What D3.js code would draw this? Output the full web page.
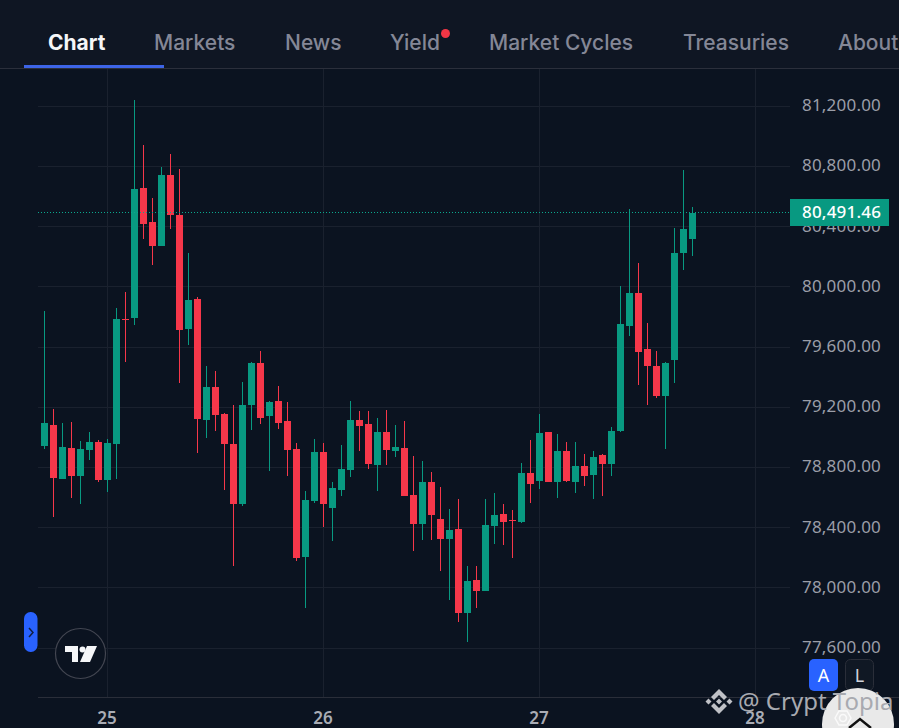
<!DOCTYPE html>
<html>
<head>
<meta charset="utf-8">
<script src="https://cdn.jsdelivr.net/npm/d3@7"></script>
<style>
html, body { margin: 0; padding: 0; background: #0b1320; overflow: hidden; }
svg { display: block; }
.tick-label { font-family: "Noto Sans", sans-serif; font-size: 17px; letter-spacing: 0.2px; fill: #9b9ea8; }
.tab { font-family: Inter, sans-serif; font-size: 21px; font-weight: 500; fill: #848796; }
</style>
</head>
<body>
<svg id="chart" width="899" height="728"></svg>
<script>
// hourly candles, first one is 24th 17:00
var opens = [78943,79082,78723,78929,78743,78916,78969,78717,78956,79787,79793,80657,80431,80271,80743,80477,79720,79919,79115,79335,
    79155,78956,78557,79215,79494,79142,79242,79109,78923,78205,78577,78903,78531,78650,78783,79115,79089,78816,79036,78909,
    78929,78617,78424,78703,78457,78325,78391,77833,78052,77979,78411,78491,78452,78438,78763,78710,79036,78703,78909,78703,
    78810,78750,78883,78823,79042,79740,79959,79587,79474,79275,79514,80225,80318];
var closes = [79095,78730,78936,78743,78923,78969,78717,78963,79786,79781,80650,80418,80271,80743,80477,79713,79913,79122,79335,79149,
    78956,78557,79215,79494,79129,79235,79095,78916,78198,78584,78903,78557,78664,78790,79115,79076,78823,79036,78916,78936,
    78610,78424,78703,78484,78325,78384,77833,78046,77979,78418,78484,78438,78446,78763,78690,79029,78703,78909,78710,78810,
    78743,78869,78823,79042,79753,79959,79567,79474,79275,79494,80225,80384,80491.46];
var highs = [79839,79188,79095,79102,78976,79036,78982,78989,79859,79966,81242,80943,80590,80796,80883,80783,80225,79932,79474,79441,
    79162,79215,79368,79501,79574,79242,79341,79235,78963,78644,78989,78963,78703,78949,79242,79175,79175,79129,79182,79082,
    79109,78876,78843,78770,78670,78524,78590,78145,78145,78590,78630,78557,78517,78830,78982,79155,79036,79022,78969,78969,
    78889,78909,78889,79069,80003,80517,80159,79760,79574,79501,80391,80777,80531];
var lows = [78923,78471,78723,78597,78557,78850,78703,78637,78723,79501,79746,80318,80145,80271,80384,79361,79614,78896,78996,79042,
    78650,78145,78544,79049,79089,78777,79056,78743,78178,77866,78564,78404,78311,78610,78737,78909,78790,78644,78816,78870,
    78610,78245,78318,78318,78112,77919,77773,77640,77866,77979,78291,78285,78198,78430,78564,78657,78703,78597,78703,78630,
    78677,78590,78610,78743,79036,79673,79348,79215,79261,78923,79361,80112,80205];

var priceTicks = [81200,80800,80400,80000,79600,79200,78800,78400,78000,77600];
var dayTicks = [25,26,27,28];
var tabNames = ["Chart","Markets","News","Yield","Market Cycles","Treasuries","About"];
var tabStarts = [48,154,285,390,489,683,838];
var lastPrice = 80491.46;

var GREEN = "#089981", RED = "#f6374a", GRID = "#1a212e";

var svg = d3.select("#chart");
var startTime = new Date(2025, 0, 24, 17);
var candleTimes = d3.range(opens.length).map(i => d3.timeHour.offset(startTime, i));

var x = d3.scaleTime()
    .domain([new Date(2025, 0, 25), new Date(2025, 0, 28)])
    .range([107.5, 755.5]);
var y = d3.scaleLinear()
    .domain([77600, 81200])
    .range([648.2, 106.2]);

var crisp = v => Math.floor(v) + 0.5;

svg.append("rect").attr("width", 899).attr("height", 728).attr("fill", "#0b1320");
svg.append("rect").attr("width", 899).attr("height", 68).attr("fill", "#0f1623");

// grid
svg.append("g").selectAll("line").data(priceTicks).join("line")
    .attr("x1", 38).attr("x2", 790)
    .attr("y1", d => crisp(y(d))).attr("y2", d => crisp(y(d)))
    .attr("stroke", GRID);
svg.append("g").selectAll("line").data(dayTicks).join("line")
    .attr("x1", d => crisp(x(new Date(2025, 0, d)))).attr("x2", d => crisp(x(new Date(2025, 0, d))))
    .attr("y1", 69).attr("y2", 697)
    .attr("stroke", GRID);

// tabs
svg.append("g").selectAll("text").data(tabNames).join("text")
    .attr("class", "tab")
    .attr("x", (d, i) => tabStarts[i])
    .attr("y", 50)
    .style("font-weight", (d, i) => i == 0 ? 700 : 500)
    .style("fill", (d, i) => i == 0 ? "#f5f6f8" : "#848796")
    .text(d => d);
svg.append("rect").attr("x", 0).attr("y", 68).attr("width", 899).attr("height", 1).attr("fill", "#2b2f3b");
svg.append("rect").attr("x", 24).attr("y", 65).attr("width", 140).attr("height", 3).attr("fill", "#3d64e6");
svg.append("circle").attr("cx", 445.5).attr("cy", 33.5).attr("r", 4.5).attr("fill", "#f23645");

// axes
var yAxis = d3.axisRight(y)
    .tickValues(priceTicks)
    .tickSize(0)
    .tickPadding(0)
    .tickFormat(d3.format(",.2f"));
var yG = svg.append("g").attr("transform", "translate(802,-1)").call(yAxis);
yG.select(".domain").remove();
yG.selectAll("text").attr("class", "tick-label");

var xAxis = d3.axisBottom(x)
    .tickValues(dayTicks.map(d => new Date(2025, 0, d)))
    .tickSize(0)
    .tickPadding(6)
    .tickFormat(d3.timeFormat("%e"));
var xG = svg.append("g").attr("transform", "translate(-1,706)").call(xAxis);
xG.select(".domain").remove();
xG.selectAll("text")
    .attr("font-family", "'Noto Sans', sans-serif")
    .attr("font-size", 17)
    .attr("font-weight", 600)
    .attr("fill", "#a9acb5");
svg.append("line").attr("x1", 38).attr("x2", 899).attr("y1", 697.5).attr("y2", 697.5).attr("stroke", "#2a2e39");

// candles
var candle = svg.append("g").selectAll("g").data(opens).join("g")
    .attr("fill", (d, i) => closes[i] >= opens[i] ? GREEN : RED);
candle.append("rect")
    .attr("x", (d, i) => x(candleTimes[i]) - 0.5)
    .attr("width", 1)
    .attr("y", (d, i) => Math.round(y(highs[i])))
    .attr("height", (d, i) => Math.max(1, Math.round(y(lows[i])) - Math.round(y(highs[i]))));
candle.append("rect")
    .attr("x", (d, i) => x(candleTimes[i]) - 3.5)
    .attr("width", 7)
    .attr("y", (d, i) => Math.round(y(Math.max(opens[i], closes[i]))))
    .attr("height", (d, i) => Math.max(1, Math.round(y(Math.min(opens[i], closes[i]))) - Math.round(y(Math.max(opens[i], closes[i])))));

// last price line and label
var lastY = crisp(y(lastPrice));
svg.append("line").attr("x1", 38).attr("x2", 790).attr("y1", lastY).attr("y2", lastY)
    .attr("stroke", "#0aa88e").attr("stroke-dasharray", "1 2");
svg.append("rect").attr("x", 790).attr("y", 199).attr("width", 99).attr("height", 27).attr("fill", GREEN);
svg.append("text").attr("class", "tick-label")
    .attr("x", 802).attr("y", 218)
    .style("fill", "#ffffff")
    .style("font-weight", 500)
    .text(d3.format(",.2f")(lastPrice));

// side pill
svg.append("rect").attr("x", 24).attr("y", 612).attr("width", 13.5).attr("height", 40).attr("rx", 6.5).attr("fill", "#2962ff");
svg.append("path").attr("d", "M29 628 L33 632.5 L29 637").attr("fill", "none").attr("stroke", "#12203f").attr("stroke-width", 1.5);

// tradingview badge
svg.append("circle").attr("cx", 80.5).attr("cy", 653.5).attr("r", 25).attr("fill", "#0b1320").attr("stroke", "#434651").attr("stroke-width", 1.2);
svg.append("path").attr("fill", "#f5f6f8")
    .attr("d", "M65 646 H78 V662 H72 V652 H65 Z M87 646 H97 L90 662 H80 Z");
svg.append("circle").attr("cx", 82.5).attr("cy", 649.5).attr("r", 3).attr("fill", "#f5f6f8");

// A / L buttons
svg.append("rect").attr("x", 809).attr("y", 659).attr("width", 29).attr("height", 32).attr("rx", 5).attr("fill", "#2962ff");
svg.append("text").attr("x", 823.5).attr("y", 682).attr("text-anchor", "middle")
    .attr("font-family", "'Noto Sans', sans-serif").attr("font-size", 18).attr("fill", "#ffffff").text("A");
svg.append("rect").attr("x", 845.5).attr("y", 659.5).attr("width", 28).attr("height", 31).attr("rx", 5)
    .attr("fill", "#101824").attr("stroke", "#2a2e39");
svg.append("text").attr("x", 859.5).attr("y", 682).attr("text-anchor", "middle")
    .attr("font-family", "'Noto Sans', sans-serif").attr("font-size", 18).attr("fill", "#d1d4dc").text("L");

// round button bottom right
svg.append("circle").attr("cx", 858).attr("cy", 724).attr("r", 36).attr("fill", "#e9e9e9");
svg.append("path").attr("d", "M835 718 L839 711 H847 L851 718 L847 725 H839 Z M843 714.5 a3.5 3.5 0 1 0 0.01 0 Z")
    .attr("fill", "none").attr("stroke", "#fafafa").attr("stroke-width", 1.5);
svg.append("path").attr("d", "M849 728 L860 719 L871 728").attr("fill", "none").attr("stroke", "#111").attr("stroke-width", 2.5);

// watermark
svg.append("path").attr("fill", "#bfc1c6")
    .attr("d", "M719 689 L727 697 L724 700 L719 695 L714 700 L711 697 Z" +
        "M719 714 L711 706 L714 703 L719 708 L724 703 L727 706 Z" +
        "M719 698.5 L722 701.5 L719 704.5 L716 701.5 Z" +
        "M708.5 698.5 L711.5 701.5 L708.5 704.5 L705.5 701.5 Z" +
        "M729.5 698.5 L732.5 701.5 L729.5 704.5 L726.5 701.5 Z");
svg.append("text").attr("x", 738).attr("y", 710)
    .attr("font-family", "'Noto Sans', sans-serif").attr("font-size", 24)
    .attr("fill", "#a8aab0").text("@ Crypt Topia");
</script>
</body>
</html>
